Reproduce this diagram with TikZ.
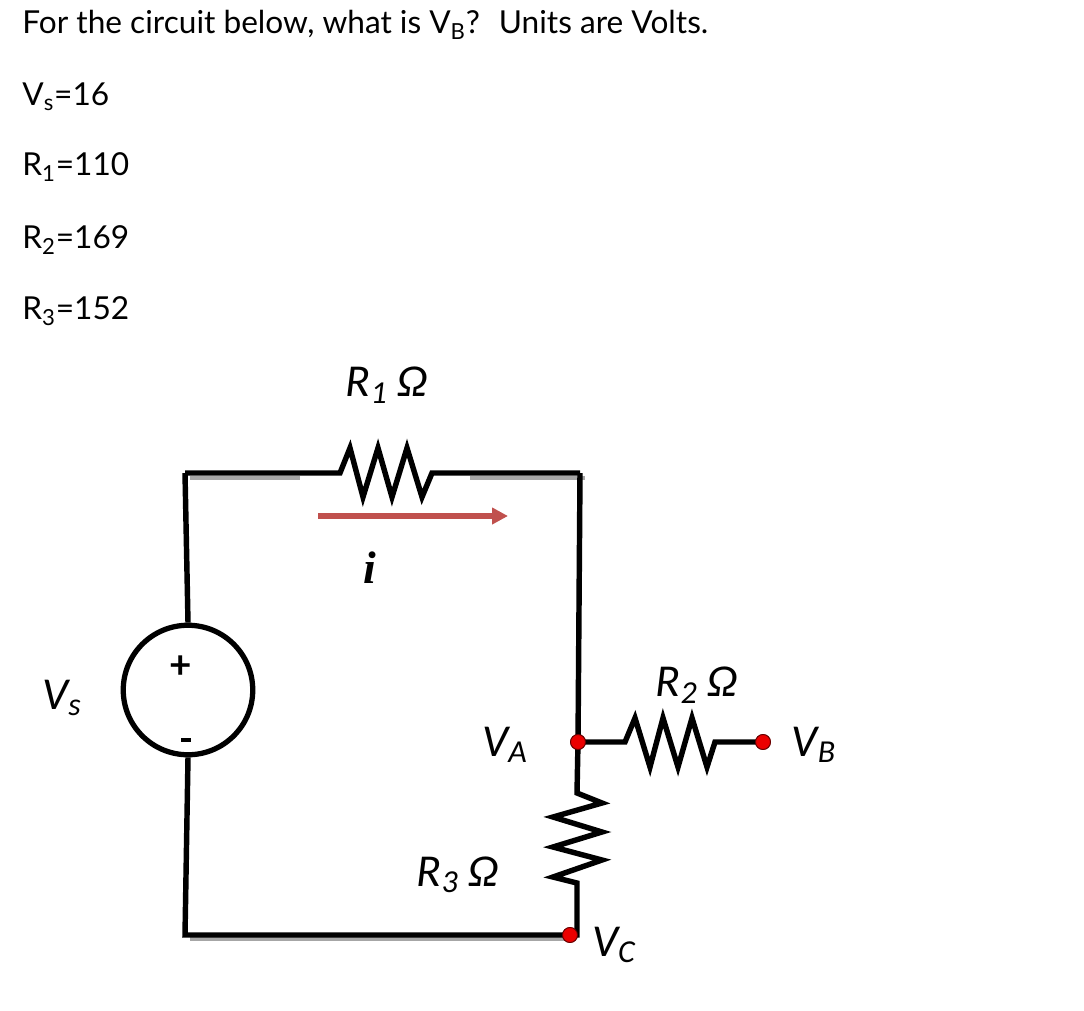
\documentclass[tikz,border=0pt]{standalone}
\usepackage{fontspec}
\setmainfont{Lato}
\newfontfamily\lbl{Carlito}
\newfontfamily\ser{Liberation Serif}
\usetikzlibrary{arrows.meta}
\definecolor{arrowred}{RGB}{192,80,77}
\definecolor{dotred}{RGB}{235,0,0}
\begin{document}
\begin{tikzpicture}[x=0.02cm,y=-0.02cm,
  wire/.style={line width=3.1pt,black,line join=miter},
  shadow/.style={line width=2.8pt,black!35},
  dot/.style={circle,fill=dotred,draw=black!60!red,line width=0.5pt,minimum size=15pt*0.567,inner sep=0pt},
  q/.style={anchor=west,font=\fontsize{18}{20}\selectfont,inner sep=0pt},
  lab/.style={font=\lbl\itshape\fontsize{26}{28}\selectfont,inner sep=0pt}]
\useasboundingbox (0,0) rectangle (1084,1010);
% question text
\node[q] (t0) at (22,25) {For the circuit below, what is V\textsubscript{B}? \ Units are Volts.};
\node[q] (t1) at (22,97) {V\textsubscript{s}=16};
\node[q] (t2) at (22,167) {R\textsubscript{1}=110};
\node[q] (t3) at (22,240) {R\textsubscript{2}=169};
\node[q] (t4) at (22,311) {R\textsubscript{3}=152};
% coordinates
\coordinate (tl) at (185,473);
\coordinate (tr) at (580,473);
\coordinate (bl) at (185,935);
\node[circle,draw=black,line width=3pt,minimum size=130*0.567pt,inner sep=0pt] (src) at (188,690) {};
% shadows
\draw[shadow] (190,478) -- (300,478);
\draw[shadow] (470,478) -- (585,478);
\draw[shadow] (190,939) -- (565,939);
% top wire with R1
\draw[wire] (tl) -- (340,473) -- (350,448) -- (363,497) -- (378,448) -- (392,497) -- (407,448) -- (422,497) -- (432,473) -- (tr);
\node[dot] (VA) at (578,742) {};
\node[dot] (VB) at (763,742) {};
\node[dot] (VC) at (570,935) {};
\draw[wire] (tr) -- (VA.center);
\draw[wire] (tl) -- (src.north);
\draw[wire] (src.south) -- (bl) -- (VC.center);
% R2
\draw[wire] (VA.center) -- (625,742) -- (635,718) -- (650,767) -- (663,718) -- (678,767) -- (692,718) -- (707,767) -- (715,742) -- (VB.center);
% R3
\draw[wire] (VA.center) -- (577,793) -- (602,803) -- (553,817) -- (602,832) -- (553,847) -- (602,860) -- (553,877) -- (577,883) -- (577,935) -- (VC.center);
\node[dot] at (VA) {};
\node[dot] at (VB) {};
\node[dot] at (VC) {};
% source signs
\node[font=\bfseries\fontsize{22}{22}\selectfont,inner sep=0pt] (plus) at (181,667) {+};
\draw[line width=2.6pt] (181,740) -- (191,740);
% current arrow
\draw[arrowred,line width=3pt,-{Triangle[length=9pt,width=9pt]}] (318,516) -- (508,516);
% labels
\node[lab] (lR1) at (387,385) {R\textsubscript{1} Ω};
\node[font=\ser\bfseries\itshape\fontsize{26}{26}\selectfont,inner sep=0pt] (li) at (370,568) {i};
\node[lab] (lVs) at (62,698) {V\textsubscript{s}};
\node[lab] (lVA) at (505,745) {V\textsubscript{A}};
\node[lab] (lR2) at (697,685) {R\textsubscript{2} Ω};
\node[lab] (lVB) at (814,745) {V\textsubscript{B}};
\node[lab] (lR3) at (458,875) {R\textsubscript{3} Ω};
\node[lab] (lVC) at (614,945) {V\textsubscript{C}};
\end{tikzpicture}
\end{document}
